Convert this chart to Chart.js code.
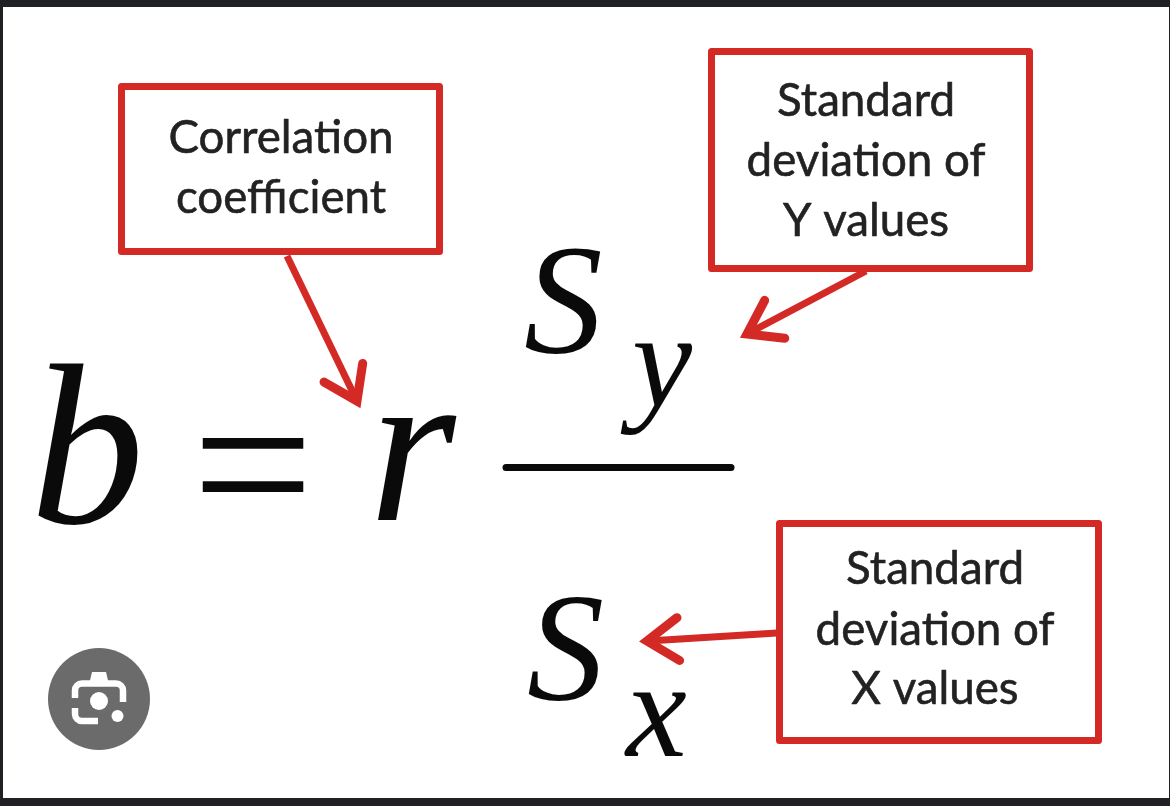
<!DOCTYPE html>
<html><head><meta charset="utf-8">
<script src="https://cdn.jsdelivr.net/npm/chart.js@4/dist/chart.umd.min.js"></script>
<style>html,body{margin:0;padding:0;background:#202124;overflow:hidden}#wrap{width:1170px;height:806px}</style>
</head><body><div id="wrap"><canvas id="c" width="1170" height="806"></canvas></div>
<script>
// ---- content (text of the annotated formula) ----
const lhsSymbols = ['b', '=', 'r'];
const numeratorSymbols = ['S', 'y'];
const denominatorSymbols = ['S', 'x'];
const calloutR = ['Correlation', 'coefficient'];
const calloutSy = ['Standard', 'deviation of', 'Y values'];
const calloutSx = ['Standard', 'deviation of', 'X values'];

// ---- layout (value space of the hidden x/y scales, 0..1170 / 0..806) ----
const layout = {
  glyphBoxes: {
    b: {l: 38, t: 363, b: 523},
    eq: {l: 202, t: 438, b: 492},
    r: {l: 378, t: 415, b: 522},
    Sy: {l: 525, t: 248, b: 355},
    ySub: {l: 620, t: 343, b: 435},
    Sx: {l: 528, t: 597, b: 702},
    xSub: {l: 624, t: 692, b: 755}
  },
  fraction: {x0: 503, x1: 734, y: 467.5, w: 7},
  boxes: [
    {x0: 118, y0: 83, x1: 443, y1: 255, cx: 281, baselines: [153, 213]},
    {x0: 708, y0: 48, x1: 1033, y1: 272, cx: 866, baselines: [116, 176, 236]},
    {x0: 776, y0: 520, x1: 1102, y1: 744, cx: 935, baselines: [584, 645, 704]}
  ],
  arrows: [
    {from: [287, 256], to: [357, 401]},
    {from: [866, 271], to: [747, 334]},
    {from: [777, 633], to: [647, 641]}
  ],
  lens: {cx: 99, cy: 699, r: 51}
};
const MATH_FONT = '"Liberation Serif", serif';
const LABEL_FONT = 'Lato, sans-serif';
const COLORS = {red: '#d42a26', ink: '#0a0a0a', labelInk: '#222222', frame: '#202124'};

function drawGlyph(ctx, text, italic, left, top, bottom) {
  const style = italic ? 'italic ' : '';
  ctx.font = style + '100px ' + MATH_FONT;
  let m = ctx.measureText(text);
  const h = m.actualBoundingBoxAscent + m.actualBoundingBoxDescent;
  const size = Math.round(100 * (bottom - top) / h * 10) / 10;
  ctx.font = style + size + 'px ' + MATH_FONT;
  m = ctx.measureText(text);
  ctx.textAlign = 'left';
  ctx.textBaseline = 'alphabetic';
  ctx.fillStyle = COLORS.ink;
  ctx.fillText(text, left + m.actualBoundingBoxLeft, top + m.actualBoundingBoxAscent);
}

const formulaPlugin = {
  id: 'formula',
  beforeDraw(chart) {
    const ctx = chart.ctx, X = v => chart.scales.x.getPixelForValue(v), Y = v => chart.scales.y.getPixelForValue(v);
    ctx.save();
    ctx.fillStyle = COLORS.frame;
    ctx.fillRect(0, 0, chart.width, chart.height);
    ctx.fillStyle = '#ffffff';
    ctx.fillRect(X(3), Y(7), X(1169) - X(3), Y(798) - Y(7));
    ctx.restore();
  },
  afterDraw(chart) {
    const ctx = chart.ctx, X = v => chart.scales.x.getPixelForValue(v), Y = v => chart.scales.y.getPixelForValue(v);
    ctx.save();
    const g = layout.glyphBoxes;
    const G = (t, it, b) => drawGlyph(ctx, t, it, X(b.l), Y(b.t), Y(b.b));
    G(lhsSymbols[0], true, g.b);
    G(lhsSymbols[1], false, g.eq);
    G(lhsSymbols[2], true, g.r);
    G(numeratorSymbols[0], true, g.Sy);
    G(numeratorSymbols[1], true, g.ySub);
    G(denominatorSymbols[0], true, g.Sx);
    G(denominatorSymbols[1], true, g.xSub);
    // fraction bar
    const f = layout.fraction;
    ctx.strokeStyle = COLORS.ink; ctx.lineWidth = f.w; ctx.lineCap = 'round';
    ctx.beginPath(); ctx.moveTo(X(f.x0) + 3, Y(f.y)); ctx.lineTo(X(f.x1) - 3, Y(f.y)); ctx.stroke();

    // callout boxes
    ctx.font = '100px ' + LABEL_FONT;
    const labelSize = Math.round(100 * 239 / ctx.measureText('deviation of').width * 10) / 10;
    const texts = [calloutR, calloutSy, calloutSx];
    layout.boxes.forEach((b, i) => {
      ctx.strokeStyle = COLORS.red; ctx.lineWidth = 7; ctx.lineJoin = 'round';
      ctx.strokeRect(X(b.x0) + 3.5, Y(b.y0) + 3.5, X(b.x1) - X(b.x0) - 7, Y(b.y1) - Y(b.y0) - 7);
      ctx.fillStyle = COLORS.labelInk;
      ctx.font = labelSize + 'px ' + LABEL_FONT;
      ctx.textAlign = 'center'; ctx.textBaseline = 'alphabetic';
      ctx.strokeStyle = COLORS.labelInk; ctx.lineWidth = 0.6;
      texts[i].forEach((t, j) => { ctx.fillText(t, X(b.cx), Y(b.baselines[j])); ctx.strokeText(t, X(b.cx), Y(b.baselines[j])); });
    });
    // arrows
    layout.arrows.forEach(a => {
      const x0 = X(a.from[0]), y0 = Y(a.from[1]), x1 = X(a.to[0]), y1 = Y(a.to[1]);
      const ang = Math.atan2(y1 - y0, x1 - x0);
      ctx.strokeStyle = COLORS.red; ctx.lineWidth = 7; ctx.lineCap = 'butt';
      ctx.beginPath(); ctx.moveTo(x0, y0); ctx.lineTo(x1 - 5 * Math.cos(ang), y1 - 5 * Math.sin(ang)); ctx.stroke();
      ctx.lineWidth = 9; ctx.lineCap = 'round'; ctx.lineJoin = 'miter';
      const L = 38, sp = 0.6;
      ctx.beginPath();
      ctx.moveTo(x1 - L * Math.cos(ang - sp), y1 - L * Math.sin(ang - sp));
      ctx.lineTo(x1, y1);
      ctx.lineTo(x1 - L * Math.cos(ang + sp), y1 - L * Math.sin(ang + sp));
      ctx.stroke();
    });
    // lens badge
    const lz = layout.lens, cx = X(lz.cx), cy = Y(lz.cy);
    ctx.fillStyle = '#6b6b6b';
    ctx.beginPath(); ctx.arc(cx, cy, lz.r, 0, Math.PI * 2); ctx.fill();
    ctx.strokeStyle = '#ffffff'; ctx.fillStyle = '#ffffff'; ctx.lineWidth = 6.5; ctx.lineCap = 'butt'; ctx.lineJoin = 'round';
    const L0 = cx - 24, R0 = cx + 24, T0 = cy - 15.5, B0 = cy + 22, rr = 7;
    ctx.beginPath();
    ctx.moveTo(L0, cy - 1); ctx.lineTo(L0, T0 + rr); ctx.arcTo(L0, T0, L0 + rr, T0, rr);
    ctx.lineTo(R0 - rr, T0); ctx.arcTo(R0, T0, R0, T0 + rr, rr); ctx.lineTo(R0, cy + 3);
    ctx.stroke();
    ctx.beginPath();
    ctx.moveTo(L0, cy + 9); ctx.lineTo(L0, B0 - rr); ctx.arcTo(L0, B0, L0 + rr, B0, rr); ctx.lineTo(cx - 1, B0);
    ctx.stroke();
    ctx.beginPath();
    ctx.moveTo(cx - 10, T0 + 1); ctx.lineTo(cx - 7, cy - 27); ctx.lineTo(cx + 7, cy - 27); ctx.lineTo(cx + 10, T0 + 1); ctx.closePath(); ctx.fill();
    ctx.beginPath(); ctx.arc(cx, cy + 2, 9, 0, Math.PI * 2); ctx.fill();
    ctx.beginPath(); ctx.arc(cx + 18.5, cy + 17, 6, 0, Math.PI * 2); ctx.fill();
    ctx.restore();
  }
};

const chart = new Chart(document.getElementById('c'), {
  type: 'scatter',
  data: {datasets: [{label: 'formula', data: [], pointRadius: 0}]},
  options: {
    responsive: false, animation: false, events: [],
    layout: {padding: 0},
    plugins: {legend: {display: false}, tooltip: {enabled: false}},
    scales: {
      x: {type: 'linear', min: 0, max: 1170, display: false},
      y: {type: 'linear', min: 0, max: 806, reverse: true, display: false}
    }
  },
  plugins: [formulaPlugin]
});
if (document.fonts && document.fonts.load) {
  Promise.all([document.fonts.load('italic 100px "Liberation Serif"'), document.fonts.load('100px "Liberation Serif"'), document.fonts.load('100px Lato')])
    .then(() => chart.draw()).catch(() => {});
}
</script></body></html>
